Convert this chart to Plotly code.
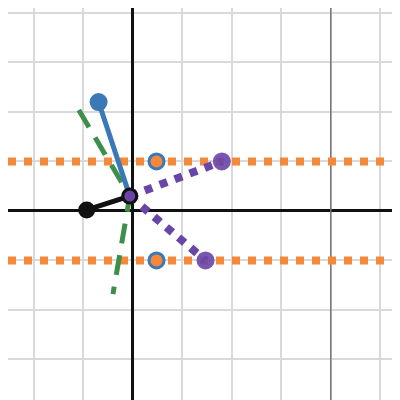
import plotly.graph_objects as go

# points (graph units)
center = (-0.06, 0.3)
blue_tip = (-0.69, 2.2)
black_pt = (-0.93, 0.02)
green_x = [-1.09, -0.06, -0.4]
green_y = [2.04, 0.3, -1.68]
ring_x = [0.48, 0.48]
ring_y = [1.0, -1.0]
purple_x = [1.8, 1.47]
purple_y = [1.0, -1.0]
orange_levels = [1.0, -1.0]

# the page adds an 8px body margin, so the view is shifted to compensate
x_range = [-2.52, 5.56]
y_range = [-3.98, 4.10]

fig = go.Figure()

for lvl in orange_levels:
    fig.add_trace(go.Scatter(x=x_range, y=[lvl, lvl], mode='lines',
                             line=dict(color='#f6883a', width=8, dash='8px,8px')))

fig.add_trace(go.Scatter(x=green_x, y=green_y, mode='lines',
                         line=dict(color='#3d8f4c', width=5, dash='20px,12px')))

for px, py in zip(purple_x, purple_y):
    fig.add_trace(go.Scatter(x=[center[0], px], y=[center[1], py], mode='lines',
                             line=dict(color='#6a45a8', width=8, dash='8px,8px')))

fig.add_trace(go.Scatter(x=[center[0], blue_tip[0]], y=[center[1], blue_tip[1]], mode='lines',
                         line=dict(color='#3a78b8', width=5)))
fig.add_trace(go.Scatter(x=[center[0], black_pt[0]], y=[center[1], black_pt[1]], mode='lines',
                         line=dict(color='#111111', width=5)))

fig.add_trace(go.Scatter(x=ring_x, y=ring_y, mode='markers',
                         marker=dict(size=15, color='#f6883a', line=dict(color='#3a78b8', width=3))))
fig.add_trace(go.Scatter(x=purple_x, y=purple_y, mode='markers',
                         marker=dict(size=18, color='#6a45a8', opacity=0.9)))
fig.add_trace(go.Scatter(x=[blue_tip[0]], y=[blue_tip[1]], mode='markers',
                         marker=dict(size=18, color='#3a78b8')))
fig.add_trace(go.Scatter(x=[black_pt[0]], y=[black_pt[1]], mode='markers',
                         marker=dict(size=17, color='#111111')))
fig.add_trace(go.Scatter(x=[center[0]], y=[center[1]], mode='markers',
                         marker=dict(size=14, color='#6a45a8', line=dict(color='#111111', width=3))))

# darker major grid lines
fig.add_shape(type='line', x0=4, x1=4, y0=y_range[0], y1=y_range[1],
              line=dict(color='#777777', width=1.5), layer='between')
fig.add_shape(type='line', x0=x_range[0], x1=x_range[1], y0=-4, y1=-4,
              line=dict(color='#777777', width=1.5), layer='between')

axis = dict(showticklabels=False, dtick=1, gridcolor='#d9d9d9', gridwidth=1.5,
            zeroline=True, zerolinecolor='#111111', zerolinewidth=3, fixedrange=True)
fig.update_layout(
    width=400, height=400, margin=dict(l=0, r=0, t=0, b=0),
    plot_bgcolor='white', paper_bgcolor='white', showlegend=False,
    xaxis=dict(range=x_range, tick0=0, **axis),
    yaxis=dict(range=y_range, tick0=0, **axis),
)

fig.write_html("out.html")
